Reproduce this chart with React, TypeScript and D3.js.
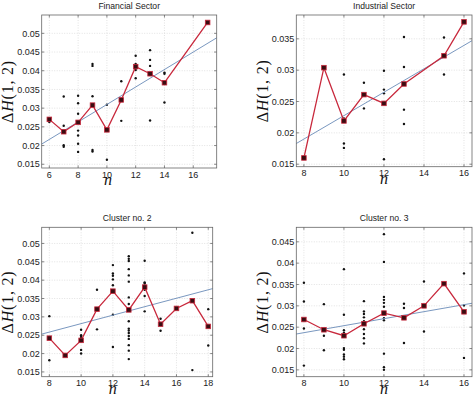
import * as d3 from "d3";

// ---- data ----
const finN = [6, 7, 8, 9, 10, 11, 12, 13, 14, 17];
const finMean = [0.027, 0.0237, 0.0262, 0.0308, 0.0242, 0.0322, 0.0411, 0.0392, 0.0368, 0.0529];
const finDots: [number, number][] = [
  [6, 0.0273], [6, 0.0266], [6, 0.0263],
  [7, 0.0331], [7, 0.0253], [7, 0.0201], [7, 0.0197],
  [8, 0.0333], [8, 0.0313], [8, 0.0285], [8, 0.0262], [8, 0.024], [8, 0.0227], [8, 0.0205], [8, 0.0183],
  [9, 0.0418], [9, 0.0413], [9, 0.0332], [9, 0.0188], [9, 0.0184],
  [10, 0.0309], [10, 0.0162],
  [11, 0.0372], [11, 0.0266],
  [12, 0.044], [12, 0.0418], [12, 0.0402], [12, 0.038],
  [13, 0.0455], [13, 0.0429], [13, 0.0413], [13, 0.0267],
  [14, 0.0395], [14, 0.0392], [14, 0.0315],
];
const finFit: [number, number][] = [[5.47, 0.0204], [17.63, 0.0488]];

const indN = [8, 9, 10, 11, 12, 13, 15, 16];
const indMean = [0.016, 0.0304, 0.0219, 0.0261, 0.0247, 0.0278, 0.0323, 0.0377];
const indDots: [number, number][] = [
  [10, 0.0293], [10, 0.0223], [10, 0.0183], [10, 0.0176],
  [11, 0.028], [11, 0.0239],
  [12, 0.0299], [12, 0.0269], [12, 0.0263], [12, 0.0158],
  [13, 0.0353], [13, 0.0305], [13, 0.0237], [13, 0.0214],
  [15, 0.0352], [15, 0.0293],
];
const indFit: [number, number][] = [[7.62, 0.0183], [16.4, 0.0347]];

const c2N = [8, 9, 10, 11, 12, 13, 14, 15, 16, 17, 18];
const c2Mean = [0.0242, 0.0195, 0.0236, 0.0321, 0.037, 0.0319, 0.0381, 0.028, 0.0323, 0.0344, 0.0274];
const c2Dots: [number, number][] = [
  [8, 0.0302], [8, 0.0182],
  [10, 0.0265], [10, 0.025], [10, 0.0245], [10, 0.021], [10, 0.02],
  [11, 0.0374], [11, 0.0266],
  [12, 0.0441], [12, 0.0418], [12, 0.0412], [12, 0.0402], [12, 0.0386], [12, 0.0306], [12, 0.0218],
  [13, 0.0465], [13, 0.0458], [13, 0.0452], [13, 0.043], [13, 0.0413], [13, 0.0396], [13, 0.0353],
  [13, 0.0335], [13, 0.0288], [13, 0.0268], [13, 0.0263], [13, 0.0256], [13, 0.0248], [13, 0.024],
  [13, 0.0223], [13, 0.0208], [13, 0.0185],
  [14, 0.0453], [14, 0.0394], [14, 0.0391], [14, 0.0374], [14, 0.0357], [14, 0.0315],
  [15, 0.0295], [15, 0.0262],
  [17, 0.0529], [17, 0.0155],
  [18, 0.0321], [18, 0.0222],
];
const c2Fit: [number, number][] = [[7.52, 0.0253], [18.28, 0.0377]];

const c3N = [8, 9, 10, 11, 12, 13, 14, 15, 16];
const c3Mean = [0.0268, 0.0244, 0.023, 0.0258, 0.0283, 0.0272, 0.03, 0.0352, 0.0286];
const c3Dots: [number, number][] = [
  [8, 0.0354], [8, 0.031], [8, 0.0247], [8, 0.016],
  [9, 0.0304], [9, 0.023], [9, 0.0196],
  [10, 0.0386], [10, 0.0279], [10, 0.0243], [10, 0.0237], [10, 0.0229], [10, 0.0201], [10, 0.0197],
  [10, 0.0186], [10, 0.0181], [10, 0.0175],
  [11, 0.0311], [11, 0.0287], [11, 0.0281], [11, 0.0273], [11, 0.0264], [11, 0.0245], [11, 0.0234],
  [11, 0.0224], [11, 0.0212],
  [12, 0.0468], [12, 0.0403], [12, 0.0321], [12, 0.0314], [12, 0.0307], [12, 0.0298], [12, 0.0285],
  [12, 0.0271], [12, 0.0266], [12, 0.0188], [12, 0.0156], [12, 0.015],
  [13, 0.0305], [13, 0.0295], [13, 0.0213],
  [14, 0.0357], [14, 0.024],
  [16, 0.0376], [16, 0.0301], [16, 0.0178],
];
const c3Fit: [number, number][] = [[7.62, 0.0234], [16.4, 0.0306]];

const titles = ["Financial Sector", "Industrial Sector", "Cluster no. 2", "Cluster no. 3"];
const xTickSets = [[6, 8, 10, 12, 14, 16], [8, 10, 12, 14, 16], [8, 10, 12, 14, 16, 18], [8, 10, 12, 14, 16]];
const yTickSets = [
  [0.015, 0.02, 0.025, 0.03, 0.035, 0.04, 0.045, 0.05],
  [0.015, 0.02, 0.025, 0.03, 0.035],
  [0.015, 0.02, 0.025, 0.03, 0.035, 0.04, 0.045, 0.05],
  [0.015, 0.02, 0.025, 0.03, 0.035, 0.04, 0.045],
];

// layout per panel (pixels)
const layout = [
  { x0: 41.7, x1: 216.7, y0: 15, y1: 168, xd: [5.47, 17.63], yd: [0.014, 0.0549], nx: 108, yl: 13 },
  { x0: 296.3, x1: 472, y0: 15, y1: 166.7, xd: [7.62, 16.4], yd: [0.0146, 0.0388], nx: 384, yl: 268 },
  { x0: 41.7, x1: 212.7, y0: 227.3, y1: 376.7, xd: [7.52, 18.28], yd: [0.0137, 0.0544], nx: 112.7, yl: 13 },
  { x0: 296.3, x1: 472, y0: 227.3, y1: 376.7, xd: [7.62, 16.4], yd: [0.0134, 0.0484], nx: 384, yl: 268 },
];

const series = [
  { n: finN, mean: finMean, dots: finDots, fit: finFit },
  { n: indN, mean: indMean, dots: indDots, fit: indFit },
  { n: c2N, mean: c2Mean, dots: c2Dots, fit: c2Fit },
  { n: c3N, mean: c3Mean, dots: c3Dots, fit: c3Fit },
];

const sans = "'Liberation Sans', Arial, sans-serif";
const serif = "'Liberation Serif', 'DejaVu Serif', serif";
const red = "#c8283c";
const blue = "#7a98c0";

function Panel({ i }: { i: number }) {
  const L = layout[i];
  const s = series[i];
  const x = d3.scaleLinear().domain(L.xd).range([L.x0, L.x1]);
  const y = d3.scaleLinear().domain(L.yd).range([L.y1, L.y0]);
  const line = d3
    .line<number>()
    .x((_, k) => x(s.n[k]))
    .y((d) => y(d));
  const fitLine = d3
    .line<[number, number]>()
    .x((d) => x(d[0]))
    .y((d) => y(d[1]));
  const cy = (L.y0 + L.y1) / 2;
  const sq = 4.6;

  return (
    <g>
      <text x={(L.x0 + L.x1) / 2} y={L.y0 - 6.5} textAnchor="middle" fontFamily={sans} fontSize={8.6} fill="#222">
        {titles[i]}
      </text>
      <rect x={L.x0} y={L.y0} width={L.x1 - L.x0} height={L.y1 - L.y0} fill="#fff" />
      {/* grid */}
      {xTickSets[i].map((t) => (
        <line key={"gx" + t} x1={x(t)} x2={x(t)} y1={L.y0} y2={L.y1} stroke="#cfcfcf" strokeWidth={0.6} strokeDasharray="1,1.5" />
      ))}
      {yTickSets[i].map((t) => (
        <line key={"gy" + t} x1={L.x0} x2={L.x1} y1={y(t)} y2={y(t)} stroke="#cfcfcf" strokeWidth={0.6} strokeDasharray="1,1.5" />
      ))}
      {/* ticks inward */}
      {xTickSets[i].map((t) => (
        <g key={"tx" + t}>
          <line x1={x(t)} x2={x(t)} y1={L.y1} y2={L.y1 - 2.5} stroke="#555" strokeWidth={0.7} />
          <line x1={x(t)} x2={x(t)} y1={L.y0} y2={L.y0 + 2.5} stroke="#555" strokeWidth={0.7} />
          <text x={x(t)} y={L.y1 + 9.5} textAnchor="middle" fontFamily={sans} fontSize={9} fill="#222">
            {t}
          </text>
        </g>
      ))}
      {yTickSets[i].map((t) => (
        <g key={"ty" + t}>
          <line x1={L.x0} x2={L.x0 + 2.5} y1={y(t)} y2={y(t)} stroke="#555" strokeWidth={0.7} />
          <line x1={L.x1} x2={L.x1 - 2.5} y1={y(t)} y2={y(t)} stroke="#555" strokeWidth={0.7} />
          <text x={L.x0 - 2} y={y(t) + 3.2} textAnchor="end" fontFamily={sans} fontSize={9} fill="#222">
            {String(+t.toFixed(3))}
          </text>
        </g>
      ))}
      {/* scatter dots */}
      {s.dots.map((d, k) => (
        <circle key={"d" + k} cx={x(d[0])} cy={y(d[1])} r={1.2} fill="#111" />
      ))}
      {/* fit line */}
      <path d={fitLine(s.fit) || ""} fill="none" stroke={blue} strokeWidth={1} />
      {/* mean line */}
      <path d={line(s.mean) || ""} fill="none" stroke={red} strokeWidth={1.3} />
      {s.mean.map((v, k) => (
        <rect
          key={"m" + k}
          x={x(s.n[k]) - sq / 2}
          y={y(v) - sq / 2}
          width={sq}
          height={sq}
          fill="#3a0d12"
          stroke={red}
          strokeWidth={0.8}
        />
      ))}
      <rect x={L.x0} y={L.y0} width={L.x1 - L.x0} height={L.y1 - L.y0} fill="none" stroke="#666" strokeWidth={0.8} />
      {/* axis labels */}
      <text x={L.nx} y={L.y1 + 17} textAnchor="middle" fontFamily={serif} fontStyle="italic" fontSize={16} fill="#111">
        n
      </text>
      <text
        transform={`translate(${L.yl},${cy}) rotate(-90)`}
        textAnchor="middle"
        fontFamily={serif}
        fontSize={16}
        letterSpacing={0.8}
        fill="#111"
      >
        Δ<tspan fontStyle="italic">H</tspan>(1, 2)
      </text>
    </g>
  );
}

export default function App() {
  return (
    <svg
      width={474}
      height={397}
      style={{ position: "absolute", left: 0, top: 0, background: "#fff" }}
    >
      {[0, 1, 2, 3].map((i) => (
        <Panel key={i} i={i} />
      ))}
    </svg>
  );
}
